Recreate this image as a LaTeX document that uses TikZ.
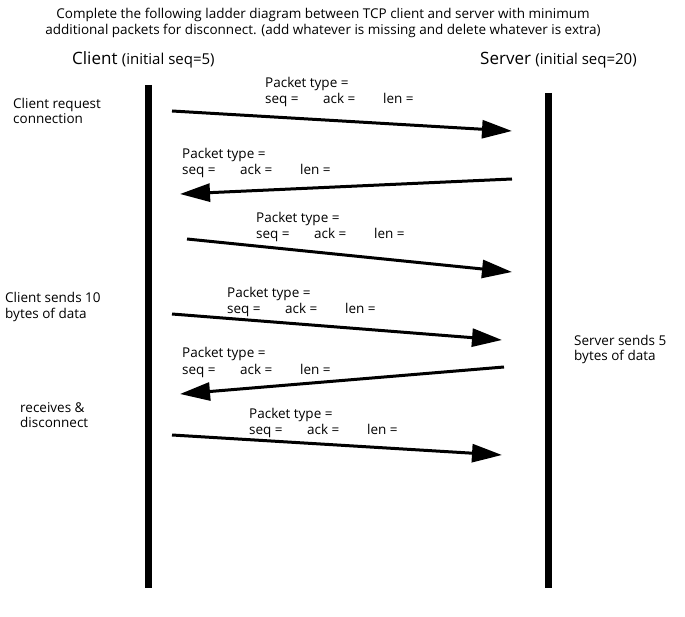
\documentclass[tikz,border=0pt]{standalone}
\usepackage{fontspec}
\setmainfont{Open Sans}
\usetikzlibrary{arrows.meta}
\begin{document}
\begin{tikzpicture}[x=1pt,y=-1pt,
  lbl/.style={anchor=base west,inner sep=0pt,font=\fontsize{13.5}{16}\selectfont},
  life/.style={line width=7pt},
  msg/.style={line width=3pt,-{Triangle[length=30pt,width=18pt]}}]
\useasboundingbox (0,0) rectangle (685,617);
\node[inner sep=0pt,font=\fontsize{13.5}{16}\selectfont,align=center] (title) at (323,23) {Complete the following ladder diagram between TCP client and server with minimum\\additional packets for disconnect. (add whatever is missing and delete whatever is extra)};
\node[lbl,font=\fontsize{17}{19}\selectfont] (ch) at (72,65) {Client {\fontsize{15}{17}\selectfont(initial seq=5)}};
\node[lbl,font=\fontsize{17}{19}\selectfont] (sh) at (480,65) {Server {\fontsize{15}{17}\selectfont(initial seq=20)}};
\coordinate (c0) at (148,85); \coordinate (c1) at (148,588);
\coordinate (s0) at (548,93); \coordinate (s1) at (548,588);
\draw[life] (c0) -- (c1);
\draw[life] (s0) -- (s1);
\foreach \i/\ax/\ay/\bx/\by/\lx/\ly in {1/172/111/512/131/265/83, 2/512/179/180/194/182/154, 3/187/239/512/272/256/218, 4/172/314/502/340/227/293, 5/504/367/180/394/182/353, 6/172/435/502/455/249/413}{
  \coordinate (a\i) at (\ax,\ay); \coordinate (b\i) at (\bx,\by);
  \draw[msg] (a\i) -- (b\i);
  \node[lbl] (pt\i) at (\lx,\ly+5) {Packet type =};
  \node[lbl] (sq\i) at (\lx,\ly+21) {seq =};
  \node[lbl] (ak\i) at (\lx+58,\ly+21) {ack =};
  \node[lbl] (ln\i) at (\lx+118,\ly+21) {len =};
}
\node[lbl,align=left] (n1) at (13,109) {Client request};
\node[lbl,align=left] (n1b) at (13,124) {connection};
\node[lbl,align=left] (n2) at (5,303) {Client sends 10};
\node[lbl,align=left] (n2b) at (5,319) {bytes of data};
\node[lbl,align=left] (n3) at (20,412) {receives \&};
\node[lbl,align=left] (n3b) at (20,427) {disconnect};
\node[lbl,align=left] (n4) at (574,345) {Server sends 5};
\node[lbl,align=left] (n4b) at (574,360) {bytes of data};
\end{tikzpicture}
\end{document}
